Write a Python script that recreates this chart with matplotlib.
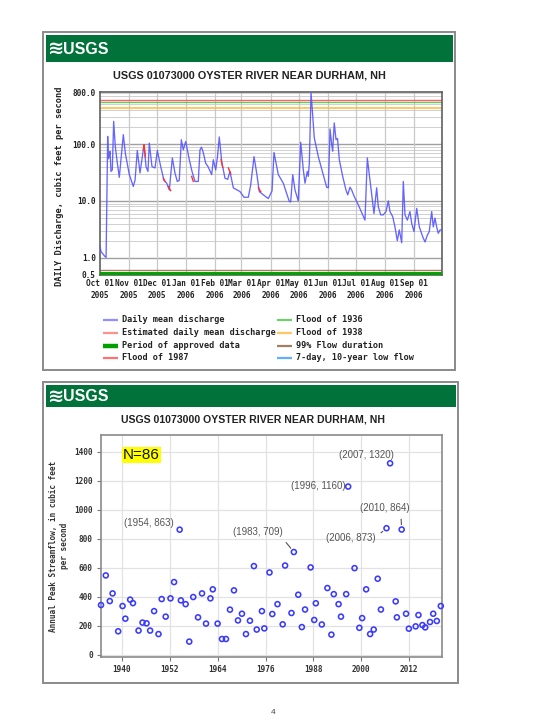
import matplotlib
matplotlib.use("Agg")
import matplotlib.pyplot as plt
import numpy as np
from matplotlib.patches import Rectangle
from matplotlib.lines import Line2D
from matplotlib.ticker import NullLocator

# ---------------- data: daily discharge (water year 2006) ----------------
flow_day = [0, 1, 5, 6.5, 7.2, 8.2, 8.9, 9.6, 10.7, 11.7, 13.1, 14.6, 16.3, 18.5, 20.6, 22.7, 24.9, 27,
            31.3, 35.5, 37.4, 39.8, 42.7, 47, 49.1, 51.2, 52.6, 55.5, 58.7, 61.2, 64.8, 68.3, 71.2, 74,
            77.2, 80, 82.5, 84.6, 86.8, 88.9, 91.5, 95.3, 98.2, 101.4, 104.9, 106.7, 108.3, 110.2, 112.8,
            115.3, 119.2, 120.9, 123.5, 125.4, 127.3, 129.9, 133.4, 136.3, 138.7, 142.3, 149.4, 153.7,
            158.3, 160.8, 164.4, 167.2, 170, 174.3, 179.6, 183.6, 185.7, 190.3, 195.6, 202, 203.5, 205.7,
            208.1, 211.6, 214.2, 217, 218.8, 221.2, 222.3, 223.4, 225.2, 226.3, 228.7, 233, 237.7, 241.9,
            243.7, 245.5, 247.3, 248.3, 250, 251.9, 253.5, 255.4, 259, 262.5, 264.4, 266.8, 268.6, 271.1,
            275.7, 280.4, 282.8, 285.3, 287.4, 290, 292.4, 295.3, 297, 299.6, 302.3, 305.2, 307.7, 309.5,
            312.4, 314.8, 317.3, 319.4, 322, 323.7, 325.5, 328, 330.8, 332.7, 335.1, 338, 340.8, 344.4,
            346.9, 349.3, 351.4, 354, 355.7, 357.5, 359.3, 361, 362.9, 364.7]
flow_cfs = [1.6, 1.3, 1.07, 1.02, 6.9, 136, 55, 60, 74, 33, 35, 250, 91, 46, 26, 60, 146, 69,
            29, 18, 23, 77, 31, 97, 40, 33, 104, 40, 38, 77, 40, 23, 20.5, 15.6,
            57, 31, 22, 23, 119, 79, 111, 53, 33, 22, 22, 79, 88, 71, 46,
            40, 29, 53, 35, 60, 133, 49, 25, 24, 33, 17, 14.6, 11.6,
            11.6, 19, 60, 31, 14.6, 12.8, 11, 15, 71, 29, 20.5, 9.8, 9.6, 29,
            15.6, 10, 107, 35, 20.5, 33, 27, 46, 795, 460, 128, 60, 31, 17.4,
            17, 184, 97, 75, 235, 119, 125, 53, 27, 15.6, 12.8, 17.4, 15.6, 12.2,
            8.5, 5.7, 4.6, 57, 29, 12.8, 6.0, 17, 7.9, 5.7, 5.7, 6.5, 10, 6.5,
            5.3, 3.5, 2.0, 3.1, 1.84, 22, 5.7, 4.6, 6.5, 4.0, 2.9, 7.4, 3.5, 2.35,
            1.9, 2.5, 2.9, 6.5, 3.5, 5.0, 3.5, 2.7, 3.1, 3.1]

# estimated daily mean discharge pieces (None separates pieces)
est_day = [46.3, 47, 48.4, None, 67.6, 69.4, None, 72.9, 75.4, None, 97.8, 99.6, None,
           129.2, 130.9, None, 137, 139.5, None, 169, 171.5]
est_cfs = [79, 97, 60, None, 25, 22, None, 18, 15.2, None, 27, 22, None,
           53, 39, None, 38, 30, None, 17, 14.6]

flood_1987 = 603
flood_1936 = 548
flood_1938 = 424
flow_dur_99 = 0.61
low_flow_7q10 = 0.3
approved_level = 0.5

month_day = [0, 31, 61, 92, 123, 151, 182, 212, 243, 273, 304, 335]
month_lbl = ["Oct 01\n2005", "Nov 01\n2005", "Dec 01\n2005", "Jan 01\n2006", "Feb 01\n2006",
             "Mar 01\n2006", "Apr 01\n2006", "May 01\n2006", "Jun 01\n2006", "Jul 01\n2006",
             "Aug 01\n2006", "Sep 01\n2006"]
q_ticks = [0.5, 1, 10, 100, 800]
q_tick_lbl = ["0.5", "1.0", "10.0", "100.0", "800.0"]

legend_labels = ["Daily mean discharge", "Estimated daily mean discharge", "Period of approved data",
                 "Flood of 1987", "Flood of 1936", "Flood of 1938", "99% Flow duration",
                 "7-day, 10-year low flow"]
legend_colors = ["#8f8fff", "#ff9090", "#00a000", "#ff7070", "#70d070", "#ffc860", "#a08060", "#60b0ff"]

# ---------------- data: annual peaks ----------------
peak_year = [1934.8, 1936.0, 1937.0, 1937.7, 1939.1, 1940.2, 1940.9, 1942.1, 1942.8, 1944.2,
             1945.2, 1946.2, 1947.1, 1948.1, 1949.2, 1950.0, 1951.0, 1952.2, 1953.1, 1954.5,
             1954.8, 1956.0, 1956.9, 1957.9, 1959.1, 1960.1, 1961.1, 1962.2, 1962.8, 1964.0,
             1965.1, 1966.1, 1967.1, 1968.1, 1969.1, 1970.1, 1971.1, 1972.1, 1973.1, 1973.8,
             1975.1, 1975.7, 1977.0, 1977.7, 1979.0, 1980.3, 1980.9, 1982.5, 1983.1, 1984.2,
             1985.1, 1985.9, 1987.3, 1988.2, 1988.6, 1990.1, 1991.5, 1992.5, 1993.1, 1994.3,
             1994.9, 1996.2, 1996.7, 1998.3, 1999.5, 2000.2, 2001.2, 2002.2, 2003.1, 2004.1,
             2004.9, 2006.3, 2007.2, 2008.6, 2008.9, 2010.1, 2011.2, 2011.9, 2013.6, 2014.3,
             2015.3, 2016.0, 2017.2, 2018.0, 2018.9, 2019.9]
peak_cfs = [344, 548, 371, 424, 163, 337, 250, 381, 357, 168,
            223, 218, 168, 302, 144, 385, 264, 390, 502, 863,
            376, 350, 92, 399, 259, 424, 216, 390, 452, 216,
            110, 110, 312, 445, 238, 284, 144, 236, 612, 175,
            302, 183, 568, 282, 350, 211, 616, 289, 709, 415,
            192, 313, 603, 241, 356, 210, 461, 140, 419, 350,
            264, 419, 1160, 598, 187, 254, 452, 144, 175, 525,
            313, 873, 1320, 369, 259, 864, 284, 181, 197, 275,
            206, 190, 227, 284, 234, 337]
ann_year = [1954, 1983, 1996, 2006, 2007, 2010]
ann_cfs = [863, 709, 1160, 873, 1320, 864]
year_ticks = [1940, 1952, 1964, 1976, 1988, 2000, 2012]
cfs_ticks = [0, 200, 400, 600, 800, 1000, 1200, 1400]
title = "USGS 01073000 OYSTER RIVER NEAR DURHAM, NH"

# ---------------- layout helpers ----------------
W, H = 537, 723
fig = plt.figure(figsize=(W / 100, H / 100), dpi=100)
fig.patch.set_facecolor("white")
MONO = ["DejaVu Sans Mono"]
SANS = ["Liberation Sans", "DejaVu Sans"]


def ax_rect(x0, y0, x1, y1):
    return [x0 / W, 1 - y1 / H, (x1 - x0) / W, (y1 - y0) / H]


def frect(x0, y0, x1, y1, **kw):
    fig.add_artist(Rectangle((x0 / W, 1 - y1 / H), (x1 - x0) / W, (y1 - y0) / H,
                             transform=fig.transFigure, **kw))


def ftext(x, y, s, **kw):
    return fig.text(x / W, 1 - y / H, s, **kw)


def fline(x0, x1, y, **kw):
    fig.add_artist(Line2D([x0 / W, x1 / W], [1 - y / H, 1 - y / H], transform=fig.transFigure, **kw))


USGS_GREEN = "#00723a"

# ---------------- panel frames and headers ----------------
for (x0, y0, x1, y1, gy1) in [(43, 32, 455, 370, 62), (43, 382, 458, 683, 407)]:
    frect(x0, y0, x1, y1, facecolor="white", edgecolor="#8a8a8a", lw=1.4, zorder=-10)
    frect(x0 + 2.5, y0 + 3, x1 - 2.5, gy1, facecolor=USGS_GREEN, edgecolor="none", zorder=-9)
    ftext(x0 + 5, (y0 + 3 + gy1) / 2, "\u224b", color="white", fontsize=14, fontweight="bold",
          family=["DejaVu Sans"], va="center", ha="left")
    ftext(x0 + 20, (y0 + 3 + gy1) / 2 + 0.5, "USGS", color="white", fontsize=11.5, fontweight="bold",
          family=SANS, va="center", ha="left")

ftext(249, 75, title, fontsize=7.8, fontweight="bold", family=SANS, ha="center", va="center",
      color="#222222")
ftext(253, 419, title, fontsize=7.6, fontweight="bold", family=SANS, ha="center", va="center",
      color="#222222")

# ---------------- top: hydrograph ----------------
ax1 = fig.add_axes(ax_rect(100, 92, 442, 275))
ax1.set_yscale("log")
ax1.set_xlim(0, 365)
ax1.set_ylim(0.5, 820)
ax1.yaxis.set_minor_locator(NullLocator())
for dec in [1, 10, 100]:
    for m in range(2, 10):
        v = dec * m
        if v < 820:
            ax1.axhline(v, color="#d0d0d0", lw=0.7, zorder=0)
for dec in [1, 10, 100]:
    ax1.axhline(dec, color="#a0a0a0", lw=1.0, zorder=0)
for d in month_day[1:]:
    ax1.axvline(d, color="#c8c8c8", lw=0.9, zorder=0)

ax1.axhline(flood_1987, color="#ff6060", lw=1.0, zorder=2)
ax1.axhline(flood_1936, color="#60cc60", lw=1.0, zorder=2)
ax1.axhline(flood_1938, color="#ffc040", lw=1.2, zorder=2)
ax1.axhline(flow_dur_99, color="#a08060", lw=1.0, zorder=2)
ax1.axhline(low_flow_7q10, color="#60b0ff", lw=1.0, zorder=2)
ax1.axhline(approved_level, color="#00a000", lw=5, zorder=3)

ax1.plot(flow_day, flow_cfs, color="#5555ff", lw=0.95, zorder=4, alpha=0.9)
ed = np.array([np.nan if v is None else v for v in est_day], dtype=float)
ec = np.array([np.nan if v is None else v for v in est_cfs], dtype=float)
ax1.plot(ed, ec, color="#ff3030", lw=1.0, zorder=5)

ax1.set_yticks(q_ticks)
ax1.set_yticklabels(q_tick_lbl)
ax1.set_xticks(month_day)
ax1.set_xticklabels(month_lbl, linespacing=1.35)
ax1.tick_params(axis="both", length=0, pad=3, labelsize=5.6, colors="#222222")
for lbl in ax1.get_xticklabels() + ax1.get_yticklabels():
    lbl.set_family(MONO)
    lbl.set_fontweight("bold")
for sp in ax1.spines.values():
    sp.set_color("#606060")
    sp.set_linewidth(1.2)

ftext(60, 186, "DAILY Discharge, cubic feet per second", rotation=90, ha="center", va="center",
      fontsize=6.2, family=MONO, fontweight="bold", color="#222222")

# legend (two columns)
rows_y = [320, 333, 345.7, 358]
for i, (lab, col) in enumerate(zip(legend_labels, legend_colors)):
    colx = 103 if i < 4 else 277
    y = rows_y[i % 4]
    fline(colx, colx + 15, y, color=col, lw=3.2 if lab.startswith("Period") else 1.6,
          solid_capstyle="butt")
    ftext(colx + 19.5, y, lab, fontsize=6.1, family=MONO, fontweight="bold", va="center", ha="left",
          color="#222222")

# ---------------- bottom: annual peak streamflow ----------------
ax2 = fig.add_axes(ax_rect(101, 435, 442, 657))
ax2.set_xlim(1934.8, 2020.2)
ax2.set_ylim(-14, 1515)
ax2.set_xticks(year_ticks)
ax2.set_yticks(cfs_ticks)
ax2.grid(True, color="#e2e2e2", lw=0.9)
ax2.set_axisbelow(True)
ax2.scatter(peak_year, peak_cfs, s=13, facecolors="none", edgecolors="#3a3aff", linewidths=1.15,
            zorder=3, clip_on=False)
ax2.tick_params(axis="both", length=3, width=0.8, color="#777777", pad=3, labelsize=5.6,
                colors="#333333")
for lbl in ax2.get_xticklabels() + ax2.get_yticklabels():
    lbl.set_family(MONO)
    lbl.set_fontweight("bold")
for sp in ax2.spines.values():
    sp.set_color("#8a8a8a")
    sp.set_linewidth(1.2)

ftext(59, 546, "Annual Peak Streamflow, in cubic feet\nper second", rotation=90, ha="center",
      va="center", fontsize=5.6, family=MONO, fontweight="bold", color="#333333", linespacing=1.25)

ax2.text(0.065, 0.91, "N=86", transform=ax2.transAxes, fontsize=11, family=SANS, ha="left",
         va="center", color="#111111", bbox=dict(facecolor="#ffff00", edgecolor="none", pad=0.6))

# annotation placement: text offset (points), leader line start on text box (relpos) or None
ann_style = {1954: ((-22, 4.5), None),
             1983: ((-26, 14.4), (0.98, 0.0)),
             1996: ((-21.8, 0.5), None),
             2006: ((-25.8, -6.7), (1.02, 0.6)),
             2007: ((-17, 6.3), None),
             2010: ((-12.4, 15.6), (0.83, 0.0))}
for yr, cfs in zip(ann_year, ann_cfs):
    k = int(np.argmin([abs(c - cfs) + (0 if int(y) == yr else 1e4) for y, c in zip(peak_year, peak_cfs)]))
    (dx, dy), rel = ann_style[yr]
    ap = None
    if rel is not None:
        ap = dict(arrowstyle="-", color="#555555", lw=0.8, relpos=rel, shrinkA=2.5, shrinkB=3.5)
    ax2.annotate(f"({yr}, {cfs})", xy=(peak_year[k], peak_cfs[k]), xytext=(dx, dy),
                 textcoords="offset points", ha="center", va="center", fontsize=7, family=SANS,
                 color="#555555", arrowprops=ap)

ftext(273, 713, "4", fontsize=6, family=SANS, ha="center", va="center", color="#444444")

fig.savefig("out.png", dpi=100, facecolor="white")
